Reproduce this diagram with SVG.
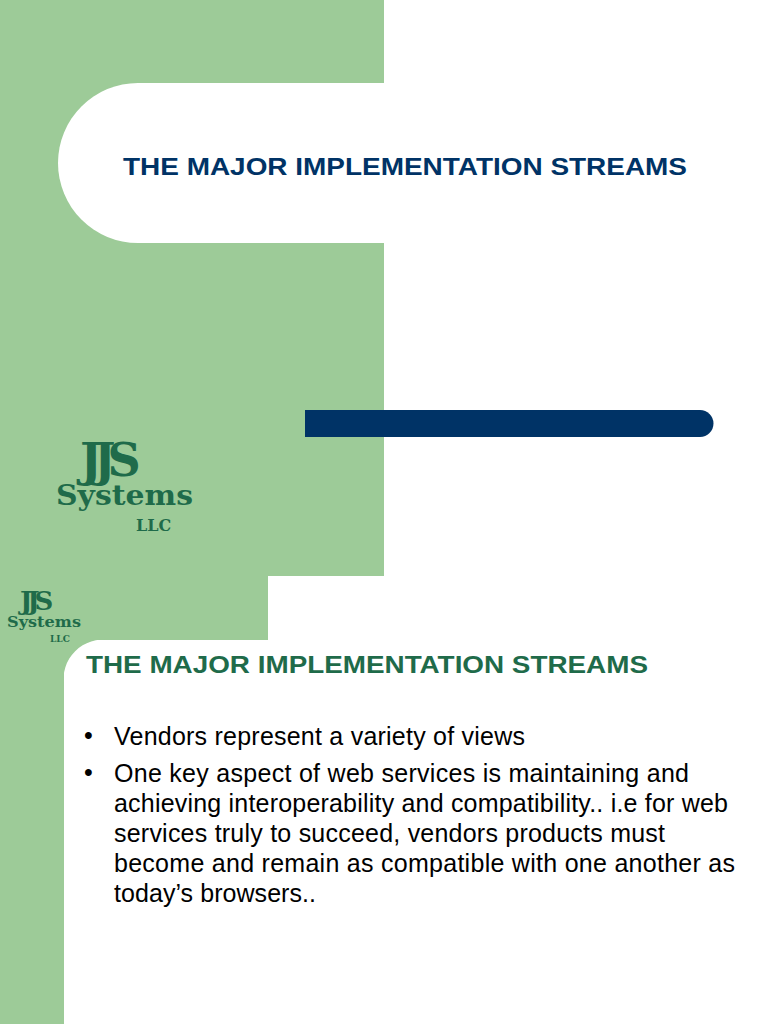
<svg xmlns="http://www.w3.org/2000/svg" width="768" height="1024" viewBox="0 0 768 1024">
<style>
.logo{font-family:"DejaVu Serif","Liberation Serif",serif;font-weight:bold;fill:#1f6b4a}
.b{font-family:"Liberation Sans",Arial,sans-serif;font-size:25px;fill:#000}
.t{font-family:"Liberation Sans",Arial,sans-serif;font-weight:bold;font-size:24px}
</style>
<rect width="768" height="1024" fill="#fff"/>
<path d="M0 0H384V576H268V640H64V1024H0Z" fill="#9dcb98"/>
<rect x="64" y="640" width="120" height="120" fill="#fff"/>
<path d="M64 640H110A40 40 0 0 0 64 686Z" fill="#9dcb98"/>
<path d="M138 83H384V243H138A80 80 0 0 1 138 83Z" fill="#fff"/>
<path d="M305 410H700A13.5 13.5 0 0 1 700 437H305Z" fill="#003366"/>
<g id="title1"><text class="t" x="123" y="175" textLength="564" lengthAdjust="spacingAndGlyphs" fill="#003366">THE MAJOR IMPLEMENTATION STREAMS</text></g>
<g id="logo1">
<text class="logo" x="80" y="476" font-size="46" letter-spacing="-8">JJS</text>
<text class="logo" x="56" y="505" font-size="28" textLength="137" lengthAdjust="spacingAndGlyphs">Systems</text>
<text class="logo" x="136" y="531" font-size="16">LLC</text>
</g>
<g id="logo2">
<text class="logo" x="20" y="610" font-size="26" letter-spacing="-5">JJS</text>
<text class="logo" x="7" y="627" font-size="15" textLength="74" lengthAdjust="spacingAndGlyphs">Systems</text>
<text class="logo" x="50" y="642" font-size="9">LLC</text>
</g>
<g id="title2"><text class="t" x="86" y="673" textLength="562" lengthAdjust="spacingAndGlyphs" fill="#1f6b4a">THE MAJOR IMPLEMENTATION STREAMS</text></g>
<g id="bullets">
<text class="b" x="84" y="744" font-size="14">•</text>
<text class="b" x="114" y="745" textLength="411">Vendors represent a variety of views</text>
<text class="b" x="84" y="781" font-size="14">•</text>
<text class="b" x="114" y="782" textLength="575">One key aspect of web services is maintaining and</text>
<text class="b" x="114" y="812" textLength="614">achieving interoperability and compatibility.. i.e for web</text>
<text class="b" x="114" y="842" textLength="551">services truly to succeed, vendors products must</text>
<text class="b" x="114" y="872" textLength="621">become and remain as compatible with one another as</text>
<text class="b" x="114" y="902" textLength="202">today’s browsers..</text>
</g>
</svg>
